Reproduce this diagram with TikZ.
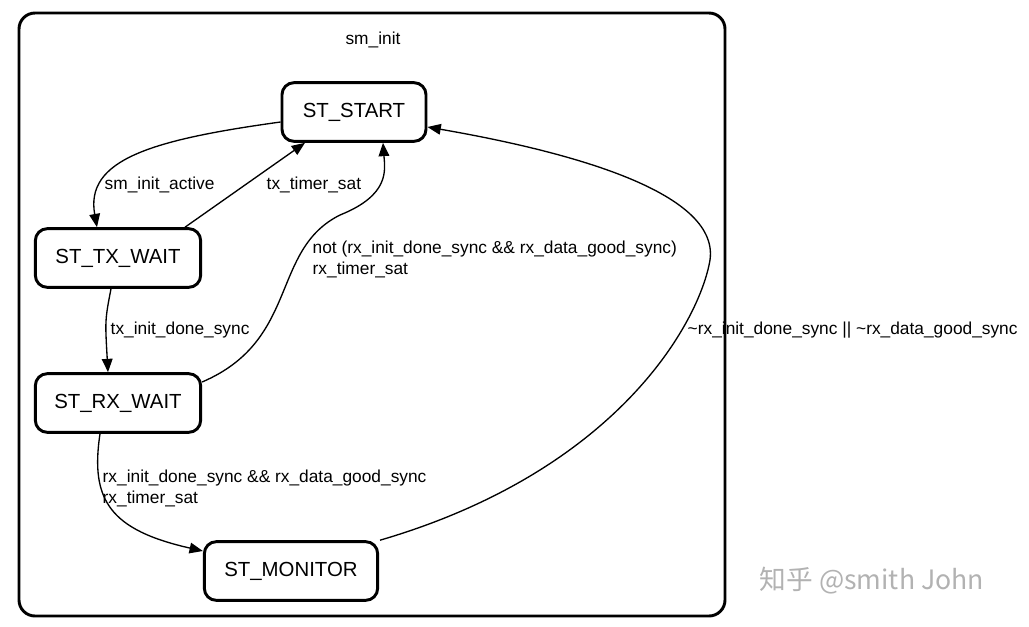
\documentclass[tikz,border=0pt]{standalone}
\usepackage{fontspec}
\setmainfont{Liberation Sans}
\newfontfamily\cjk{Noto Sans CJK SC}
\usetikzlibrary{arrows.meta}
\begin{document}
\begin{tikzpicture}[x=0.75pt,y=-0.75pt,
  st/.style={draw,line width=2.2pt,rounded corners=9pt,minimum height=44pt,font=\fontsize{15.3}{18}\selectfont,inner xsep=6pt},
  lb/.style={font=\fontsize{13}{16}\selectfont,align=left},
  ed/.style={line width=1pt,-{Triangle[length=10pt,width=8pt]}}]
\useasboundingbox (0,0) rectangle (1029,626);
\draw[line width=2.2pt,rounded corners=12pt] (19,13) rectangle (725,616);
\node[lb] (title) at (373,40) {sm\_init};
\node[st,minimum width=108pt] (s) at (354,112) {ST\_START};
\node[st,minimum width=124pt] (tx) at (118,258) {ST\_TX\_WAIT};
\node[st,minimum width=124pt] (rx) at (118,403) {ST\_RX\_WAIT};
\node[st,minimum width=130pt] (m) at (291,571) {ST\_MONITOR};
\draw[ed] (s.west|-0,122) .. controls (150,140) and (85,160) .. (tx.north-|97,0);
\node[lb,anchor=west] (l1) at (100,185) {sm\_init\_active};
\draw[ed] (tx.north-|185,0) -- (s.south-|305,0);
\node[lb,anchor=west] (l2) at (262,185) {tx\_timer\_sat};
\draw[ed] (tx.south-|111,0) .. controls (105,320) .. (rx.north-|108,0);
\node[lb,anchor=west] (l3) at (106,330) {tx\_init\_done\_sync};
\draw[ed] (rx.east|-0,382) .. controls (300,340) and (270,250) .. (340,215) .. controls (390,195) and (385,170) .. (s.south-|383,0);
\node[lb,anchor=north west] (l4) at (308,236) {not (rx\_init\_done\_sync \&\& rx\_data\_good\_sync)\\rx\_timer\_sat};
\draw[ed] (rx.south-|100,0) .. controls (90,500) and (110,530) .. (m.west|-0,551);
\node[lb,anchor=north west] (l5) at (98,465) {rx\_init\_done\_sync \&\& rx\_data\_good\_sync\\rx\_timer\_sat};
\draw[ed] (m.north-|380,0) .. controls (620,470) and (700,320) .. (710,260) .. controls (720,190) and (560,150) .. (s.east|-0,127);
\node[lb,anchor=west] (l6) at (683,330) {\textasciitilde rx\_init\_done\_sync || \textasciitilde rx\_data\_good\_sync};
\node[font=\cjk\fontsize{20}{24}\selectfont,text=black!30] (wm) at (872,581) {知乎 @smith John};
\end{tikzpicture}
\end{document}
